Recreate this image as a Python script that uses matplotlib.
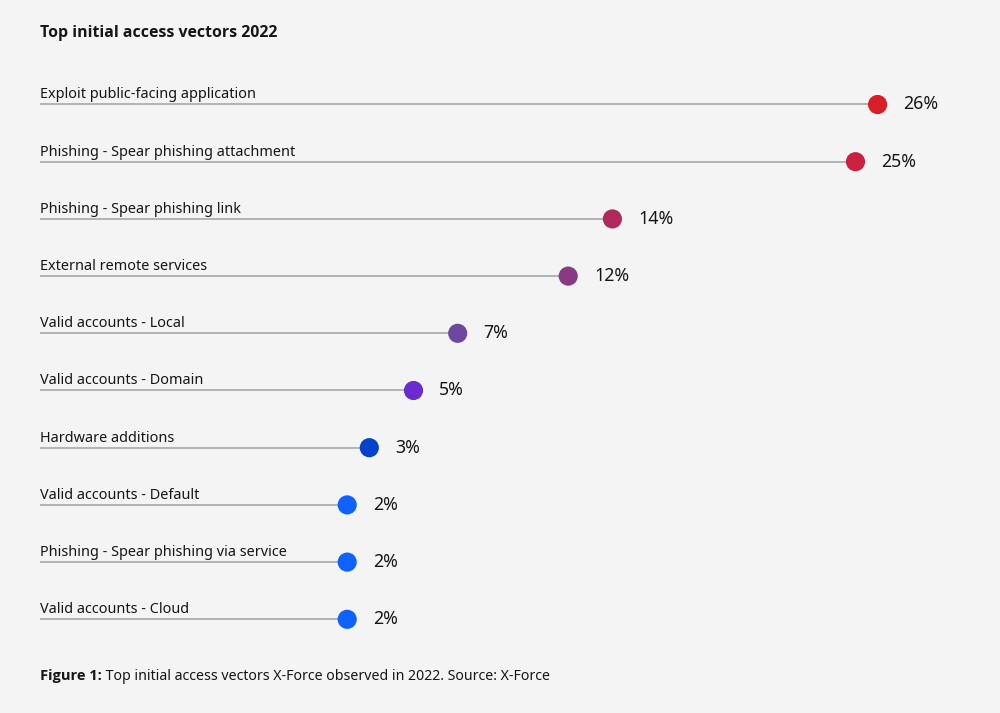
import matplotlib
matplotlib.use("Agg")
import matplotlib.pyplot as plt

categories = [
    "Exploit public-facing application",
    "Phishing - Spear phishing attachment",
    "Phishing - Spear phishing link",
    "External remote services",
    "Valid accounts - Local",
    "Valid accounts - Domain",
    "Hardware additions",
    "Valid accounts - Default",
    "Phishing - Spear phishing via service",
    "Valid accounts - Cloud",
]
values = [26, 25, 14, 12, 7, 5, 3, 2, 2, 2]
value_labels = ["26%", "25%", "14%", "12%", "7%", "5%", "3%", "2%", "2%", "2%"]
colors = ["#da1e28", "#c9213f", "#b1285d", "#8a3a82", "#6e48a0", "#6a2ccc",
          "#0043ce", "#0f62fe", "#0f62fe", "#0f62fe"]

title = "Top initial access vectors 2022"
caption_bold = "Figure 1:"
caption_rest = " Top initial access vectors X-Force observed in 2022. Source: X-Force"

plt.rcParams['font.family'] = ['Noto Sans', 'DejaVu Sans']
BOLD = ['Open Sans', 'DejaVu Sans']
BG = "#f4f4f4"
W, H = 1000, 713
fig = plt.figure(figsize=(10, 7.13), dpi=100, facecolor=BG)

ax = fig.add_axes([40 / W, 0, 1 - 40 / W, 1])
ax.set_facecolor(BG)
px_per = 22.1
zero_px = 303
xl = (40 - zero_px) / px_per
xr = (W - zero_px) / px_per
ax.set_xlim(xl, xr)
row0, step = 104.5, 57.2
ax.set_ylim((H - row0) / step, -row0 / step)
ax.axis("off")

ys = list(range(len(categories)))
ax.hlines(ys, xl, values, color="#a8a8a8", lw=1.2, zorder=1)
ax.scatter(values, ys, s=13.8 ** 2, c=colors, zorder=3, linewidths=0)

for y, cat, v, lab in zip(ys, categories, values, value_labels):
    ax.annotate(cat, xy=(xl, y), xytext=(0, 1.5), textcoords="offset points",
                ha="left", va="bottom", fontsize=10.4, color="#161616")
    ax.annotate(lab, xy=(v, y), xytext=(18.5, 0), textcoords="offset points",
                ha="left", va="center", fontsize=12.8, color="#161616")

fig.text(40 / W, 1 - 33 / H, title, ha="left", va="center", family=BOLD,
         fontsize=11.4, fontweight="bold", color="#161616")

base_y = 1 - 680 / H
t1 = fig.text(40 / W, base_y, caption_bold, ha="left", va="baseline",
              family=BOLD, fontsize=10.5, fontweight="bold", color="#161616")
renderer = fig.canvas.get_renderer()
bb = t1.get_window_extent(renderer=renderer)
fig.text(bb.x1 / W, base_y, caption_rest, ha="left", va="baseline",
         fontsize=10.2, color="#161616")

fig.savefig("out.png", dpi=100, facecolor=BG)
